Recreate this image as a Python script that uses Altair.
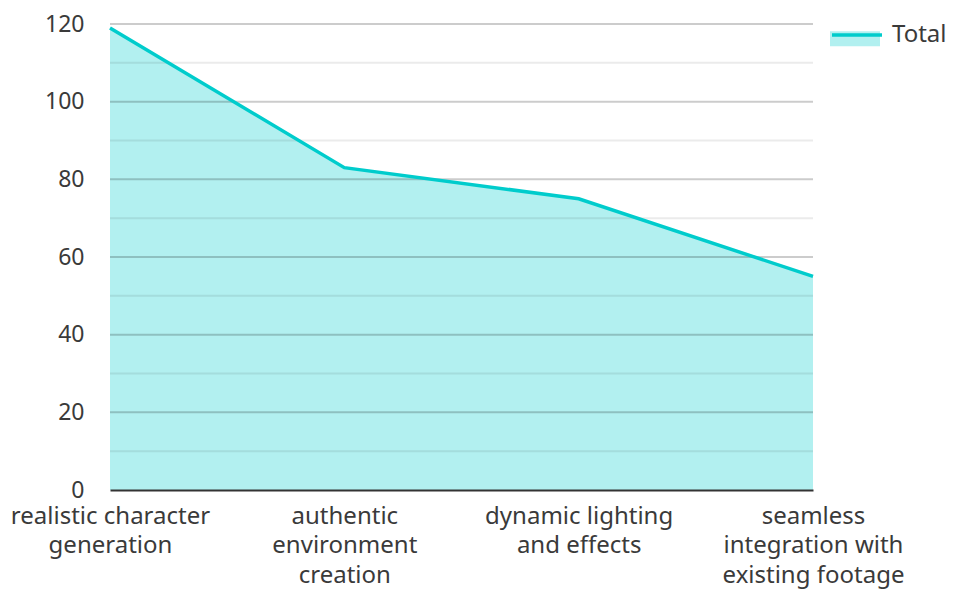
import json
import altair as alt
import pandas as pd

categories = [
    "realistic character generation",
    "authentic environment creation",
    "dynamic lighting and effects",
    "seamless integration with existing footage",
]
values = [119, 83, 75, 55]
label_lines = [
    ["realistic character", "generation"],
    ["authentic", "environment", "creation"],
    ["dynamic lighting", "and effects"],
    ["seamless", "integration with", "existing footage"],
]
series_name = "Total"
y_ticks = [0, 20, 40, 60, 80, 100, 120]
major_grid = [20, 40, 60, 80, 100, 120]
minor_grid = [10, 30, 50, 70, 90, 110]

df = pd.DataFrame({
    "category": categories,
    "value": values,
    "series": [series_name] * len(categories),
    "series_fill": [series_name] * len(categories),
})

expr = "datum.label"
for cat, lines in reversed(list(zip(categories, label_lines))):
    expr = f"datum.label == {json.dumps(cat)} ? {json.dumps(lines)} : ({expr})"

FONT = "Noto Sans"
TEXT = "#3a3a3a"

x = alt.X(
    "category:N", sort=categories, title=None,
    scale=alt.Scale(type="point", padding=0),
    axis=alt.Axis(labelAngle=0, labelFontSize=24, labelColor=TEXT, labelFont=FONT,
                  labelLineHeight=29.5, labelPadding=14, labelExpr=expr, labelLimit=0,
                  ticks=False, tickSize=0, grid=False, domainColor="#333333",
                  domainWidth=2, zindex=1, labelBound=False, labelFlush=False,
                  labelOverlap=False),
)
y_scale = alt.Scale(domain=[0, 120], nice=False)
y = alt.Y(
    "value:Q", title=None, scale=y_scale,
    axis=alt.Axis(values=y_ticks, labelFontSize=23, labelColor=TEXT, labelFont=FONT,
                  ticks=False, tickSize=0, labelPadding=26, domain=False, grid=False),
)

base = alt.Chart(df)

area = base.mark_area(opacity=1).encode(
    x=x, y=y,
    fill=alt.Fill("series_fill:N", scale=alt.Scale(range=["#b2f0f0"]),
                  legend=alt.Legend(orient="none", legendX=720, legendY=-16, title=None,
                                    symbolType="M-1,-0.07H1V0.53H-1Z", symbolSize=2500,
                                    symbolStrokeWidth=0, symbolOpacity=1,
                                    labelExpr="''", labelFontSize=24, labelOffset=8,
                                    labelFont=FONT, labelLimit=0)),
)

major = alt.Chart(pd.DataFrame({"g": major_grid})).mark_rule(
    color="#000000", opacity=0.2, strokeWidth=2
).encode(y=alt.Y("g:Q", scale=y_scale))

minor = alt.Chart(pd.DataFrame({"g": minor_grid})).mark_rule(
    color="#000000", opacity=0.08, strokeWidth=2
).encode(y=alt.Y("g:Q", scale=y_scale))

line = base.mark_line(strokeWidth=3.5).encode(
    x=x, y=y,
    stroke=alt.Stroke("series:N", scale=alt.Scale(range=["#00cccc"]),
                      legend=alt.Legend(orient="none", legendX=720, legendY=-16, title=None,
                                        symbolType="stroke", symbolSize=2500,
                                        symbolStrokeWidth=3.5, labelFontSize=24,
                                        labelOffset=8, labelColor=TEXT, labelFont=FONT,
                                        labelLimit=0)),
)

chart = alt.layer(area, minor, major, line).properties(
    width=703, height=466,
    padding={"left": 102, "top": 16, "right": 133, "bottom": 99},
    autosize=alt.AutoSizeParams(type="none"),
).configure(font=FONT).configure_view(stroke=None)

chart.save("out.html", embed_options={"renderer": "svg", "actions": False})
